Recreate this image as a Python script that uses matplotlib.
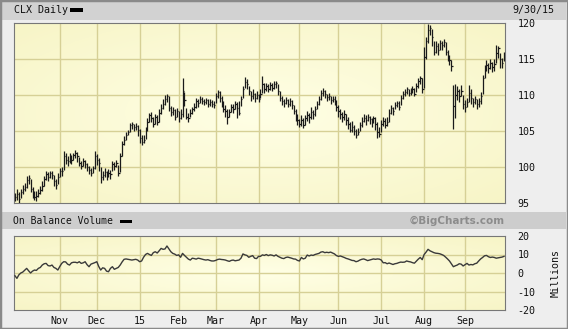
import numpy as np
import matplotlib
matplotlib.use("Agg")
import matplotlib.pyplot as plt
from matplotlib.patches import Rectangle

# daily bars, Oct 1 2014 .. Sep 30 2015 (trading days)
closes = [
    95.8, 96.3, 95.6, 96.5, 96.9, 97.2, 98.2, 98.5, 97.0, 96.2,
    95.8, 96.0, 96.4, 96.8, 97.3, 98.3, 99.0, 98.6, 99.2, 98.9,
    98.0, 97.5, 98.6, 99.5, 99.4, 101.5, 101.0, 100.8, 101.4, 101.0,
    101.6, 101.9, 101.5, 100.6, 100.2, 100.9, 100.4, 100.0, 99.6, 99.2,
    99.8, 101.5, 101.0, 100.6, 98.6, 98.9, 99.3, 98.8, 99.2, 99.0,
    100.4, 100.1, 100.6, 99.2, 101.5, 103.2, 103.8, 104.5, 104.9, 105.8,
    106.0, 105.5, 105.7, 105.2, 104.0, 103.5, 103.8, 105.2, 106.3, 107.2,
    106.8, 106.0, 107.0, 106.3, 107.5, 108.2, 108.8, 109.5, 109.8, 108.2,
    107.6, 107.9, 107.0, 107.8, 106.8, 107.3, 110.5, 109.3, 107.0, 106.8,
    107.5, 108.0, 108.3, 109.2, 108.9, 109.5, 109.2, 109.0, 109.3, 108.8,
    109.0, 108.7, 108.6, 109.8, 110.4, 109.6, 109.0, 108.1, 107.8, 107.0,
    107.6, 108.3, 108.0, 108.8, 108.2, 107.5, 109.4, 110.8, 111.8, 111.5,
    110.5, 109.8, 110.2, 109.6, 110.0, 109.5, 110.2, 111.5, 110.8, 111.3,
    110.9, 111.4, 111.0, 111.5, 111.7, 110.5, 109.6, 109.2, 108.9, 109.3,
    108.8, 109.2, 108.6, 107.8, 107.0, 106.5, 106.0, 106.5, 105.9, 106.8,
    107.2, 106.9, 107.6, 107.3, 108.0, 108.8, 109.5, 110.3, 110.6, 110.1,
    109.7, 109.9, 109.3, 109.5, 109.2, 108.3, 107.8, 107.3, 107.0, 107.3,
    106.5, 106.0, 105.2, 105.6, 105.0, 104.5, 104.9, 105.8, 106.4, 106.8,
    106.5, 107.0, 106.6, 106.2, 106.8, 106.0, 104.8, 104.6, 106.0, 106.4,
    105.8, 106.3, 107.5, 108.2, 107.8, 108.6, 108.9, 108.4, 109.6, 110.2,
    110.4, 110.8, 110.3, 110.6, 110.9, 110.2, 111.3, 112.0, 112.4, 110.8,
    115.3, 117.5, 119.0, 119.3, 118.0, 116.0, 116.8, 116.3, 117.2, 116.9,
    117.4, 116.0, 115.2, 114.8, 114.0, 108.5, 110.0, 110.5, 109.8, 110.6,
    108.8, 108.3, 109.0, 110.3, 109.6, 109.0, 109.4, 108.8, 109.1, 109.8,
    112.3, 113.5, 114.2, 113.8, 114.5, 113.9, 114.3, 115.8, 116.5, 115.0,
    114.4, 115.5,
]
highs = [
    96.4, 96.9, 96.5, 97.0, 97.5, 97.8, 98.8, 98.9, 98.4, 97.2,
    96.6, 96.7, 97.0, 97.4, 98.0, 98.8, 99.4, 99.3, 99.5, 99.4,
    98.9, 98.3, 99.1, 99.8, 100.0, 102.2, 101.9, 101.5, 101.9, 101.6,
    102.0, 102.3, 102.1, 101.4, 100.9, 101.3, 101.0, 100.5, 100.2, 99.9,
    100.2, 102.2, 101.8, 101.2, 100.0, 99.5, 99.8, 99.5, 99.7, 99.6,
    100.8, 100.7, 101.0, 100.3, 102.0, 103.6, 104.3, 104.9, 105.2, 106.1,
    106.2, 106.0, 106.1, 105.8, 105.3, 104.5, 104.5, 105.6, 106.8, 107.5,
    107.6, 106.9, 107.4, 107.2, 108.0, 108.8, 109.4, 110.0, 110.2, 109.8,
    108.5, 108.4, 108.0, 108.2, 107.8, 108.0, 112.4, 110.4, 108.2, 107.5,
    108.0, 108.4, 108.9, 109.6, 109.4, 109.8, 109.7, 109.5, 109.6, 109.4,
    109.4, 109.3, 109.1, 110.3, 110.7, 110.5, 109.8, 109.2, 108.6, 108.0,
    108.1, 108.8, 108.7, 109.2, 109.0, 109.1, 109.8, 111.3, 112.5, 112.2,
    111.3, 110.6, 110.8, 110.3, 110.5, 110.2, 110.8, 112.7, 111.6, 111.7,
    111.5, 111.8, 111.6, 111.9, 112.0, 111.5, 110.5, 109.8, 109.5, 109.7,
    109.4, 109.6, 109.3, 108.6, 108.0, 107.3, 106.7, 107.2, 106.8, 107.2,
    107.8, 107.5, 108.3, 107.9, 108.5, 109.2, 109.9, 110.7, 111.0, 110.7,
    110.2, 110.3, 109.9, 109.9, 109.8, 109.3, 108.6, 108.0, 107.6, 107.9,
    107.4, 107.0, 106.3, 106.4, 105.9, 105.3, 105.4, 106.2, 107.0, 107.3,
    107.2, 107.4, 107.1, 106.8, 107.1, 106.9, 106.2, 105.6, 106.5, 107.0,
    106.8, 107.0, 108.0, 108.6, 108.4, 109.0, 109.2, 109.1, 110.0, 110.6,
    110.8, 111.1, 110.9, 111.0, 111.3, 111.0, 111.7, 112.4, 112.7, 112.3,
    116.6, 118.0, 119.8, 119.7, 119.2, 117.5, 117.5, 117.2, 117.6, 117.5,
    117.8, 117.3, 116.2, 115.6, 114.8, 111.4, 111.5, 111.2, 110.9, 111.4,
    110.0, 109.3, 109.6, 111.4, 110.8, 109.6, 109.9, 109.5, 109.6, 110.4,
    112.8, 114.2, 114.9, 114.5, 115.0, 114.6, 115.0, 117.0, 116.8, 115.8,
    115.2, 116.0,
]
lows = [
    95.3, 95.4, 95.0, 95.7, 96.2, 96.6, 97.1, 97.6, 96.5, 95.7,
    95.4, 95.3, 95.8, 96.2, 96.6, 97.3, 98.2, 98.0, 98.5, 98.3,
    97.4, 97.0, 97.6, 98.6, 98.8, 99.6, 100.4, 100.2, 100.6, 100.4,
    101.0, 101.2, 100.7, 100.1, 99.7, 100.2, 99.9, 99.4, 99.0, 98.8,
    99.2, 99.7, 100.3, 99.5, 97.8, 98.2, 98.6, 98.2, 98.6, 98.4,
    99.5, 99.6, 100.0, 98.7, 99.3, 101.5, 103.0, 103.8, 104.4, 104.9,
    105.3, 105.0, 105.2, 104.3, 103.3, 103.1, 103.3, 103.9, 105.0, 106.2,
    106.2, 105.5, 106.0, 105.8, 106.2, 107.3, 108.0, 108.6, 109.0, 107.8,
    107.1, 107.2, 106.5, 106.9, 106.3, 106.6, 107.0, 108.5, 106.6, 106.3,
    106.9, 107.4, 107.8, 108.2, 108.4, 108.9, 108.8, 108.6, 108.7, 108.4,
    108.5, 108.3, 108.2, 108.9, 109.6, 109.0, 108.3, 107.6, 106.9, 106.0,
    107.0, 107.6, 107.5, 108.1, 106.8, 107.2, 108.5, 109.6, 111.0, 110.9,
    110.0, 109.2, 109.5, 109.0, 109.4, 109.0, 109.6, 110.3, 110.3, 110.6,
    110.4, 110.7, 110.5, 110.9, 111.0, 110.0, 109.1, 108.6, 108.4, 108.7,
    108.3, 108.5, 108.0, 107.3, 106.4, 105.8, 105.5, 105.7, 105.4, 105.9,
    106.4, 106.1, 106.7, 106.6, 107.1, 108.0, 108.6, 109.3, 109.8, 109.6,
    109.2, 109.3, 108.8, 109.0, 108.6, 107.8, 107.0, 106.7, 106.3, 106.5,
    105.9, 105.3, 104.8, 104.9, 104.5, 104.0, 104.5, 105.0, 105.6, 106.2,
    105.9, 106.4, 106.0, 105.6, 106.1, 105.2, 104.0, 104.1, 104.8, 105.7,
    105.4, 105.7, 106.3, 107.4, 107.2, 108.0, 108.4, 107.9, 108.6, 109.4,
    109.9, 110.2, 109.8, 110.0, 110.3, 109.8, 110.4, 111.0, 111.5, 110.3,
    111.0, 115.0, 117.2, 118.3, 116.8, 115.5, 115.8, 115.6, 116.3, 116.2,
    116.6, 115.6, 114.7, 114.2, 113.4, 105.3, 106.8, 109.3, 109.0, 109.8,
    108.0, 107.6, 108.3, 109.0, 108.8, 108.3, 108.7, 108.1, 108.4, 108.8,
    110.2, 112.4, 113.4, 113.0, 113.6, 113.2, 113.4, 114.4, 115.2, 113.8,
    113.8, 114.7,
]
# On Balance Volume, millions
obv = [
    -1.5, -2.9, -1.0, 0.0, 0.5, 1.5, 2.5, 1.2, 0.0, 1.0,
    1.6, 1.4, 2.5, 3.0, 4.3, 5.0, 5.2, 4.0, 3.8, 4.3,
    3.0, 2.5, 1.6, 3.5, 5.2, 6.1, 6.0, 4.8, 4.3, 5.5,
    5.8, 5.8, 5.5, 6.1, 5.2, 5.5, 6.1, 4.5, 3.4, 4.8,
    5.2, 5.6, 6.1, 3.5, 1.6, 2.8, 2.5, 1.0, 0.7, 2.5,
    3.4, 2.0, 2.5, 3.0, 4.3, 6.0, 7.4, 7.6, 7.4, 7.2,
    7.0, 7.2, 7.4, 7.0, 6.1, 6.5, 8.5, 10.0, 10.6, 10.0,
    9.5, 11.0, 11.5, 10.8, 12.0, 13.3, 12.8, 13.0, 14.6, 13.0,
    11.5, 10.6, 10.2, 9.5, 9.8, 8.5, 10.6, 9.5, 8.5, 7.5,
    7.0, 8.0, 7.8, 7.5, 8.0, 7.8, 7.5, 7.2, 7.0, 7.2,
    6.8, 6.5, 6.5, 6.8, 7.3, 7.5, 7.3, 7.2, 7.0, 6.6,
    6.3, 6.8, 7.0, 6.6, 6.8, 7.0, 8.0, 10.3, 9.8, 9.5,
    8.5, 9.0, 9.4, 8.0, 7.8, 9.0, 9.0, 9.8, 9.5, 10.0,
    9.4, 9.8, 9.6, 9.2, 9.8, 9.0, 8.5, 8.0, 7.8, 8.4,
    8.6, 8.3, 8.0, 7.6, 7.5, 6.8, 6.5, 8.4, 7.6, 8.0,
    9.7, 9.2, 9.7, 9.5, 10.0, 10.3, 10.6, 11.3, 11.5, 11.0,
    11.2, 11.0, 11.3, 10.8, 10.3, 9.4, 9.0, 9.2, 8.8, 8.4,
    7.9, 7.6, 7.2, 6.8, 6.7, 6.1, 6.4, 7.0, 7.4, 7.6,
    7.2, 6.7, 7.0, 7.3, 7.6, 7.4, 7.6, 7.5, 7.0, 5.5,
    5.6, 5.0, 5.4, 5.0, 4.6, 5.0, 5.2, 5.6, 5.9, 5.8,
    5.9, 6.5, 6.2, 6.0, 5.6, 5.3, 6.4, 7.5, 8.4, 7.2,
    10.0, 11.3, 12.8, 12.0, 11.5, 11.0, 10.7, 10.6, 10.4, 10.0,
    9.5, 8.6, 7.6, 6.5, 5.0, 3.4, 3.9, 4.3, 5.0, 4.8,
    3.8, 4.5, 5.2, 4.3, 4.6, 4.4, 5.0, 5.3, 6.5, 7.6,
    8.4, 9.3, 9.5, 8.8, 8.4, 8.6, 8.4, 8.0, 8.2, 8.4,
    8.6, 9.0,
]
# trading days per month, Oct 2014 .. Sep 2015
month_days = [23, 19, 22, 20, 19, 22, 21, 20, 22, 22, 21, 21]
month_labels = ['', 'Nov', 'Dec', '15', 'Feb', 'Mar', 'Apr', 'May', 'Jun', 'Jul', 'Aug', 'Sep']
price_ticks = [95, 100, 105, 110, 115, 120]
obv_ticks = [-20, -10, 0, 10, 20]

W, H = 568, 329
fig = plt.figure(figsize=(W / 100, H / 100), dpi=100)
fig.patch.set_facecolor('#eeeeee')
mono = 'DejaVu Sans Mono'
fs = 7.2

def fx(px):
    return px / W

def fy(py):
    return 1 - py / H

# grey bands and outer frame
fig.add_artist(Rectangle((fx(2), fy(20)), fx(564), 20 / H, transform=fig.transFigure,
                         facecolor='#d2d2d2', edgecolor='none', zorder=0))
fig.add_artist(Rectangle((fx(2), fy(229)), fx(564), 17 / H, transform=fig.transFigure,
                         facecolor='#cdcdcd', edgecolor='none', zorder=0))
fig.add_artist(Rectangle((0, 0), 1, 1, transform=fig.transFigure,
                         facecolor='none', edgecolor='#8a8a8a', lw=2.5, zorder=5))

fig.text(fx(14), fy(10), 'CLX Daily', family=mono, fontsize=fs, va='center', color='#111')
fig.add_artist(Rectangle((fx(70), fy(11.5)), fx(13), 3 / H, transform=fig.transFigure,
                         facecolor='black', edgecolor='none'))
fig.text(fx(554), fy(10), '9/30/15', family=mono, fontsize=fs, va='center', ha='right', color='#111')
fig.text(fx(13), fy(221), 'On Balance Volume', family=mono, fontsize=7.0, va='center', color='#111')
fig.add_artist(Rectangle((fx(120), fy(222.5)), fx(12), 3 / H, transform=fig.transFigure,
                         facecolor='black', edgecolor='none'))
fig.text(fx(505), fy(221), '\u00a9BigCharts.com', fontsize=7.5, fontweight='bold',
         va='center', ha='right', color='#8c8c8c')

days = np.arange(len(closes))
starts = np.cumsum([0] + month_days[:-1])

# yellow radial background
yy, xx = np.mgrid[-1:1:120j, -1:1:240j]
rad = np.clip(np.sqrt(xx ** 2 + yy ** 2) / 1.4, 0, 1)
c0 = np.array([1.0, 1.0, 0.90])
c1 = np.array([0.97, 0.96, 0.78])
grad = c0 + (c1 - c0) * rad[..., None]

ax = fig.add_axes([fx(14), fy(203), fx(491), 180 / H])
ax2 = fig.add_axes([fx(14), fy(310), fx(491), 74 / H])

xlim = (-0.5, 251.5)
for a, yl in ((ax, (95, 120)), (ax2, (-20, 20))):
    a.imshow(grad, extent=[xlim[0], xlim[1], yl[0], yl[1]], aspect='auto', zorder=0)
    a.set_xlim(xlim)
    a.set_ylim(yl)
    for x in starts[1:]:
        a.axvline(x, color='#d6d096', lw=1, zorder=1)
    for s in a.spines.values():
        s.set_color('#777777')
        s.set_linewidth(0.8)
    a.yaxis.tick_right()
    a.tick_params(length=0, labelsize=fs, colors='#111', pad=9)

for t in price_ticks[1:-1]:
    ax.axhline(t, color='#d6d096', lw=1, zorder=1)
for t in obv_ticks[1:-1]:
    ax2.axhline(t, color='#d6d096', lw=1, zorder=1)

ax.vlines(days, lows, highs, color='#1a1a1a', lw=0.9, zorder=3)
ax.hlines(closes, days, days + 0.7, color='#1a1a1a', lw=0.9, zorder=3)
ax.set_yticks(price_ticks)
ax.set_yticklabels([str(t) for t in price_ticks], family=mono, ha='left')
ax.set_xticks([])

ax2.plot(days, obv, color='#3a3a3a', lw=1.0, zorder=3)
ax2.set_yticks(obv_ticks)
ax2.set_yticklabels([str(t) for t in obv_ticks], family=mono, ha='left')
ax2.set_xticks(starts[1:])
ax2.set_xticklabels(month_labels[1:], family=mono)
ax2.tick_params(axis='x', pad=4)
fig.text(fx(556), fy(273), 'Millions', family=mono, fontsize=fs, rotation=90,
         va='center', ha='center', color='#111')

fig.savefig('out.png', dpi=100, facecolor=fig.get_facecolor())
